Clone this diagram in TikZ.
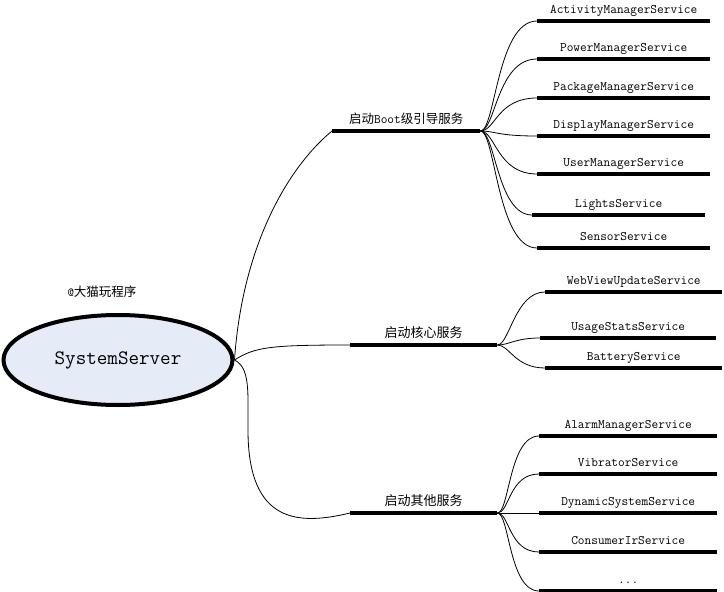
\documentclass[tikz,border=0pt]{standalone}
\usepackage{fontspec}
\newfontfamily\cjk{Noto Sans CJK SC}
\usepackage{xcolor}
\usepackage{tikz}
\usetikzlibrary{shapes.geometric}

\definecolor{rootfill}{RGB}{230,236,247}
\tikzset{
  bar/.style={line width=4.5pt},
  link/.style={line width=0.8pt},
  svc/.style={anchor=south west, minimum width=#1, inner xsep=0pt, inner ysep=7pt,
    text depth=0pt, font=\ttfamily\fontsize{13}{15}\selectfont,
    append after command={\pgfextra{\let\svcnode=\tikzlastnode}
      (\svcnode.south west) edge[bar] (\svcnode.south east)}},
  svc/.default=173pt,
  root/.style={ellipse, draw, line width=4pt, fill=rootfill, minimum width=229pt,
    minimum height=90pt, inner sep=0pt, font=\ttfamily\fontsize{20.5}{24}\selectfont},
}

\begin{document}
\begin{tikzpicture}[x=1pt, y=-1pt]
  \useasboundingbox (0,0) rectangle (724,592);

  \node[root] (ss) at (118,360) {SystemServer};
  \node[font=\fontsize{12.5}{15}\selectfont] (author) at (102,292) {\texttt{@}\cjk 大猫玩程序};

  % three main branches
  \node[svc=148pt] (boot) at (332,131) {{\cjk\fontsize{12.5}{15}\selectfont 启动}Boot{\cjk\fontsize{12.5}{15}\selectfont 级引导服务}};
  \node[svc=147pt] (core) at (350,345) {\cjk 启动核心服务};
  \node[svc=147pt] (other) at (350,513) {\cjk 启动其他服务};

  \draw[link] (ss.east) .. controls (242,250) and (285,170) .. (boot.south west);
  \draw[link] (ss.east) .. controls (255,347) and (270,345) .. (core.south west);
  \draw[link] (ss.east) .. controls (250,368) and (248,390) .. (248,430)
    .. controls (248,525) and (300,525) .. (other.south west);

  % boot services
  \node[svc] (ams) at (537,21) {ActivityManagerService};
  \node[svc] (pms) at (537,59) {PowerManagerService};
  \node[svc] (pkms) at (537,98) {PackageManagerService};
  \node[svc] (dms) at (537,136) {DisplayManagerService};
  \node[svc] (ums) at (537,174) {UserManagerService};
  \node[svc] (lights) at (532,215) {LightsService};
  \node[svc] (sensor) at (537,248) {SensorService};

  \draw[link] (boot.south east) .. controls +(15,0) and +(-40,0) .. (ams.south west);
  \draw[link] (boot.south east) .. controls +(15,0) and +(-40,0) .. (pms.south west);
  \draw[link] (boot.south east) .. controls +(15,0) and +(-40,0) .. (pkms.south west);
  \draw[link] (boot.south east) .. controls +(15,0) and +(-40,0) .. (dms.south west);
  \draw[link] (boot.south east) .. controls +(15,0) and +(-40,0) .. (ums.south west);
  \draw[link] (boot.south east) .. controls +(15,0) and +(-35,0) .. (lights.south west);
  \draw[link] (boot.south east) .. controls +(15,0) and +(-40,0) .. (sensor.south west);

  % core services
  \node[svc=177pt] (webview) at (545,292) {WebViewUpdateService};
  \node[svc=176pt] (usage) at (540,338) {UsageStatsService};
  \node[svc=177pt] (battery) at (545,368) {BatteryService};

  \draw[link] (core.south east) .. controls +(12,0) and +(-30,0) .. (webview.south west);
  \draw[link] (core.south east) .. controls +(12,0) and +(-25,0) .. (usage.south west);
  \draw[link] (core.south east) .. controls +(12,0) and +(-30,0) .. (battery.south west);

  % other services
  \node[svc=178pt] (alarm) at (539,436) {AlarmManagerService};
  \node[svc=178pt] (vibrator) at (539,474) {VibratorService};
  \node[svc=178pt] (dynsys) at (539,513) {DynamicSystemService};
  \node[svc=178pt] (consumerir) at (539,552) {ConsumerIrService};
  \node[svc=178pt] (more) at (539,591) {...};

  \draw[link] (other.south east) .. controls +(12,0) and +(-30,0) .. (alarm.south west);
  \draw[link] (other.south east) .. controls +(12,0) and +(-30,0) .. (vibrator.south west);
  \draw[link] (other.south east) -- (dynsys.south west);
  \draw[link] (other.south east) .. controls +(12,0) and +(-30,0) .. (consumerir.south west);
  \draw[link] (other.south east) .. controls +(12,0) and +(-30,0) .. (more.south west);

\end{tikzpicture}
\end{document}
